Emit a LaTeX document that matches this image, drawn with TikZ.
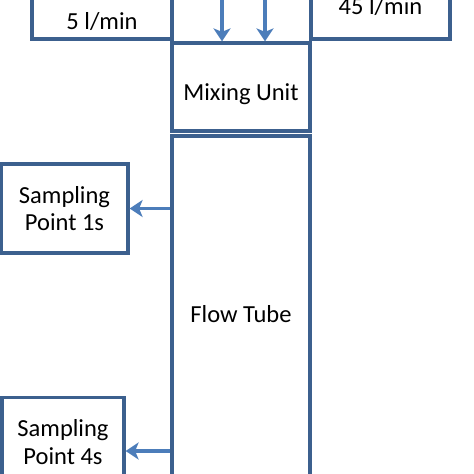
\documentclass[tikz,border=0pt]{standalone}
\usepackage{fontspec}
\setmainfont{Carlito}
\usepackage{tikz}
\usetikzlibrary{positioning,arrows.meta}

\definecolor{boxline}{RGB}{60,96,142}
\definecolor{flowline}{RGB}{76,125,186}

\tikzset{
  unit/.style={draw=boxline, line width=3.2pt, fill=white, align=center,
    inner sep=0pt, font=\fontsize{24.5}{27.5}\selectfont},
  rate/.style={font=\fontsize{24.5}{27.5}\selectfont, inner sep=0pt, anchor=base},
  flow/.style={draw=flowline, line width=3.2pt,
    -{Stealth[length=13pt,width=17pt,inset=3.5pt]}},
}

\begin{document}
\begin{tikzpicture}[x=1pt,y=-1pt]
    \clip (0,0) rectangle (474,474);

    \node[unit, minimum width=140pt, minimum height=89pt] (gasA) at (102,-5.5) {};
    \node[unit, minimum width=139pt, minimum height=89pt] (gasB) at (380.5,-5.5) {};
    \node[rate] (rateA) at ([yshift=11pt]gasA.south) {5 l/min};
    \node[rate] (rateB) at ([yshift=26pt]gasB.south) {45 l/min};

    \node[unit, minimum width=138pt, minimum height=88pt,
          text height=26pt, text depth=0pt] (mix) at (241,87) {Mixing Unit};
    \node[unit, minimum width=138pt, minimum height=354pt,
          text height=18pt, text depth=0pt] (tube) at (241,313) {Flow Tube};

    \node[unit, minimum width=127pt, minimum height=89pt] (samp1) at (64.5,208.5) {Sampling\\Point 1s};
    \node[unit, minimum width=122pt, minimum height=89pt] (samp4) at (63,442) {Sampling\\Point 4s};

    \coordinate (inA) at (222,-12);
    \coordinate (inB) at (265,-12);
    \draw[flow] (inA) -- (inA |- mix.north);
    \draw[flow] (inB) -- (inB |- mix.north);

    \draw[flow] (tube.west |- samp1) -- (samp1.east);
    \draw[flow] (tube.west |- samp4.east) ++(0,9) -- ([yshift=-9pt]samp4.east);
\end{tikzpicture}
\end{document}
